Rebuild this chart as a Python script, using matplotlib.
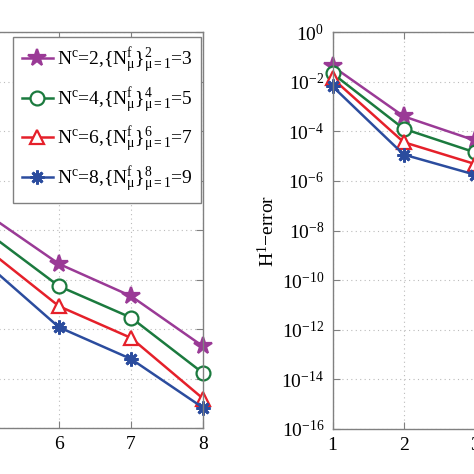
import matplotlib
matplotlib.use('Agg')
import matplotlib.pyplot as plt
import numpy as np

plt.rcParams['font.family'] = ['Liberation Serif', 'DejaVu Serif']
plt.rcParams['mathtext.fontset'] = 'custom'
plt.rcParams['mathtext.rm'] = 'Liberation Serif'
plt.rcParams['mathtext.it'] = 'Liberation Serif:italic'

# left panel (only x=5..8 falls inside the crop)
x_left = [5, 6, 7, 8]
left_nc2 = [10**-7.36, 10**-9.37, 10**-10.67, 10**-12.70]
left_nc4 = [10**-8.09, 10**-10.27, 10**-11.54, 10**-13.78]
left_nc6 = [10**-8.77, 10**-11.08, 10**-12.36, 10**-14.81]
left_nc8 = [10**-9.38, 10**-11.93, 10**-13.21, 10**-15.18]

# right panel (x=1..3 visible)
x_right = [1, 2, 3]
right_nc2 = [10**-1.38, 10**-3.40, 10**-4.37]
right_nc4 = [10**-1.67, 10**-3.90, 10**-4.85]
right_nc6 = [10**-1.87, 10**-4.44, 10**-5.32]
right_nc8 = [10**-2.19, 10**-4.94, 10**-5.75]

labels = [
    r'N$^{\mathrm{c}}$=2,{N$^{\mathrm{f}}_{\mathrm{μ}}$}$^{2}_{\mathrm{μ=1}}$=3',
    r'N$^{\mathrm{c}}$=4,{N$^{\mathrm{f}}_{\mathrm{μ}}$}$^{4}_{\mathrm{μ=1}}$=5',
    r'N$^{\mathrm{c}}$=6,{N$^{\mathrm{f}}_{\mathrm{μ}}$}$^{6}_{\mathrm{μ=1}}$=7',
    r'N$^{\mathrm{c}}$=8,{N$^{\mathrm{f}}_{\mathrm{μ}}$}$^{8}_{\mathrm{μ=1}}$=9',
]
colors = ['#9a3a96', '#1b7a3e', '#e5202a', '#2b4c9e']
styles = [dict(marker='*', ms=13, mfc=colors[0]),
          dict(marker='o', ms=10, mfc='white'),
          dict(marker='^', ms=10, mfc='white'),
          dict(marker=(8, 2, 0), ms=10, mew=2)]

W = 474.0
fig = plt.figure(figsize=(4.74, 4.74), dpi=100)
ax1 = fig.add_axes([-301 / W, (474 - 428) / W, 504 / W, 396 / W])
ax2 = fig.add_axes([332.5 / W, (474 - 429) / W, 498.4 / W, 397 / W])


def style_axes(ax):
    ax.set_yscale('log')
    ax.set_xlim(1, 8)
    ax.set_ylim(1e-16, 1e0)
    ax.set_xticks(range(1, 9))
    ax.set_yticks([10.0 ** k for k in range(-16, 1, 2)])
    ax.minorticks_off()
    ax.grid(True, linestyle=(0, (1, 3)), color='#bbbbbb', linewidth=0.8)
    ax.tick_params(direction='in', top=True, right=True, labelsize=14,
                   color='#808080', length=5, pad=6)
    for s in ax.spines.values():
        s.set_color('#808080')
        s.set_linewidth(1.0)


style_axes(ax1)
style_axes(ax2)
ax1.set_yticklabels([])
# ticks outside the crop get no label
ax1.set_xticklabels(['', '', '', '', '', '6', '7', '8'])
ax2.set_xticklabels(['1', '2', '3', '', '', '', '', ''])

for ys, c, st, lab in zip([left_nc2, left_nc4, left_nc6, left_nc8],
                          colors, styles, labels):
    kw = dict(st)
    ax1.plot(x_left, ys, color=c, lw=1.8, mec=c, mew=kw.pop('mew', 1.6),
             label=lab, clip_on=False, **kw)

for ys, c, st in zip([right_nc2, right_nc4, right_nc6, right_nc8],
                     colors, styles):
    kw = dict(st)
    ax2.plot(x_right, ys, color=c, lw=1.8, mec=c, mew=kw.pop('mew', 1.6),
             clip_on=False, **kw)

ax2.set_ylabel(r'H$^{1}$$-$error', fontsize=14, labelpad=2)

leg = ax1.legend(loc='upper left', bbox_to_anchor=(13 / W, 1 - 37 / W),
                 bbox_transform=fig.transFigure, borderaxespad=0,
                 fontsize=14, frameon=True, fancybox=False, framealpha=1,
                 handlelength=1.6, handletextpad=0.2, labelspacing=0.5,
                 borderpad=0.45)
leg.get_frame().set_edgecolor('#808080')
leg.get_frame().set_linewidth(1.0)

fig.savefig('out.png', dpi=100)
